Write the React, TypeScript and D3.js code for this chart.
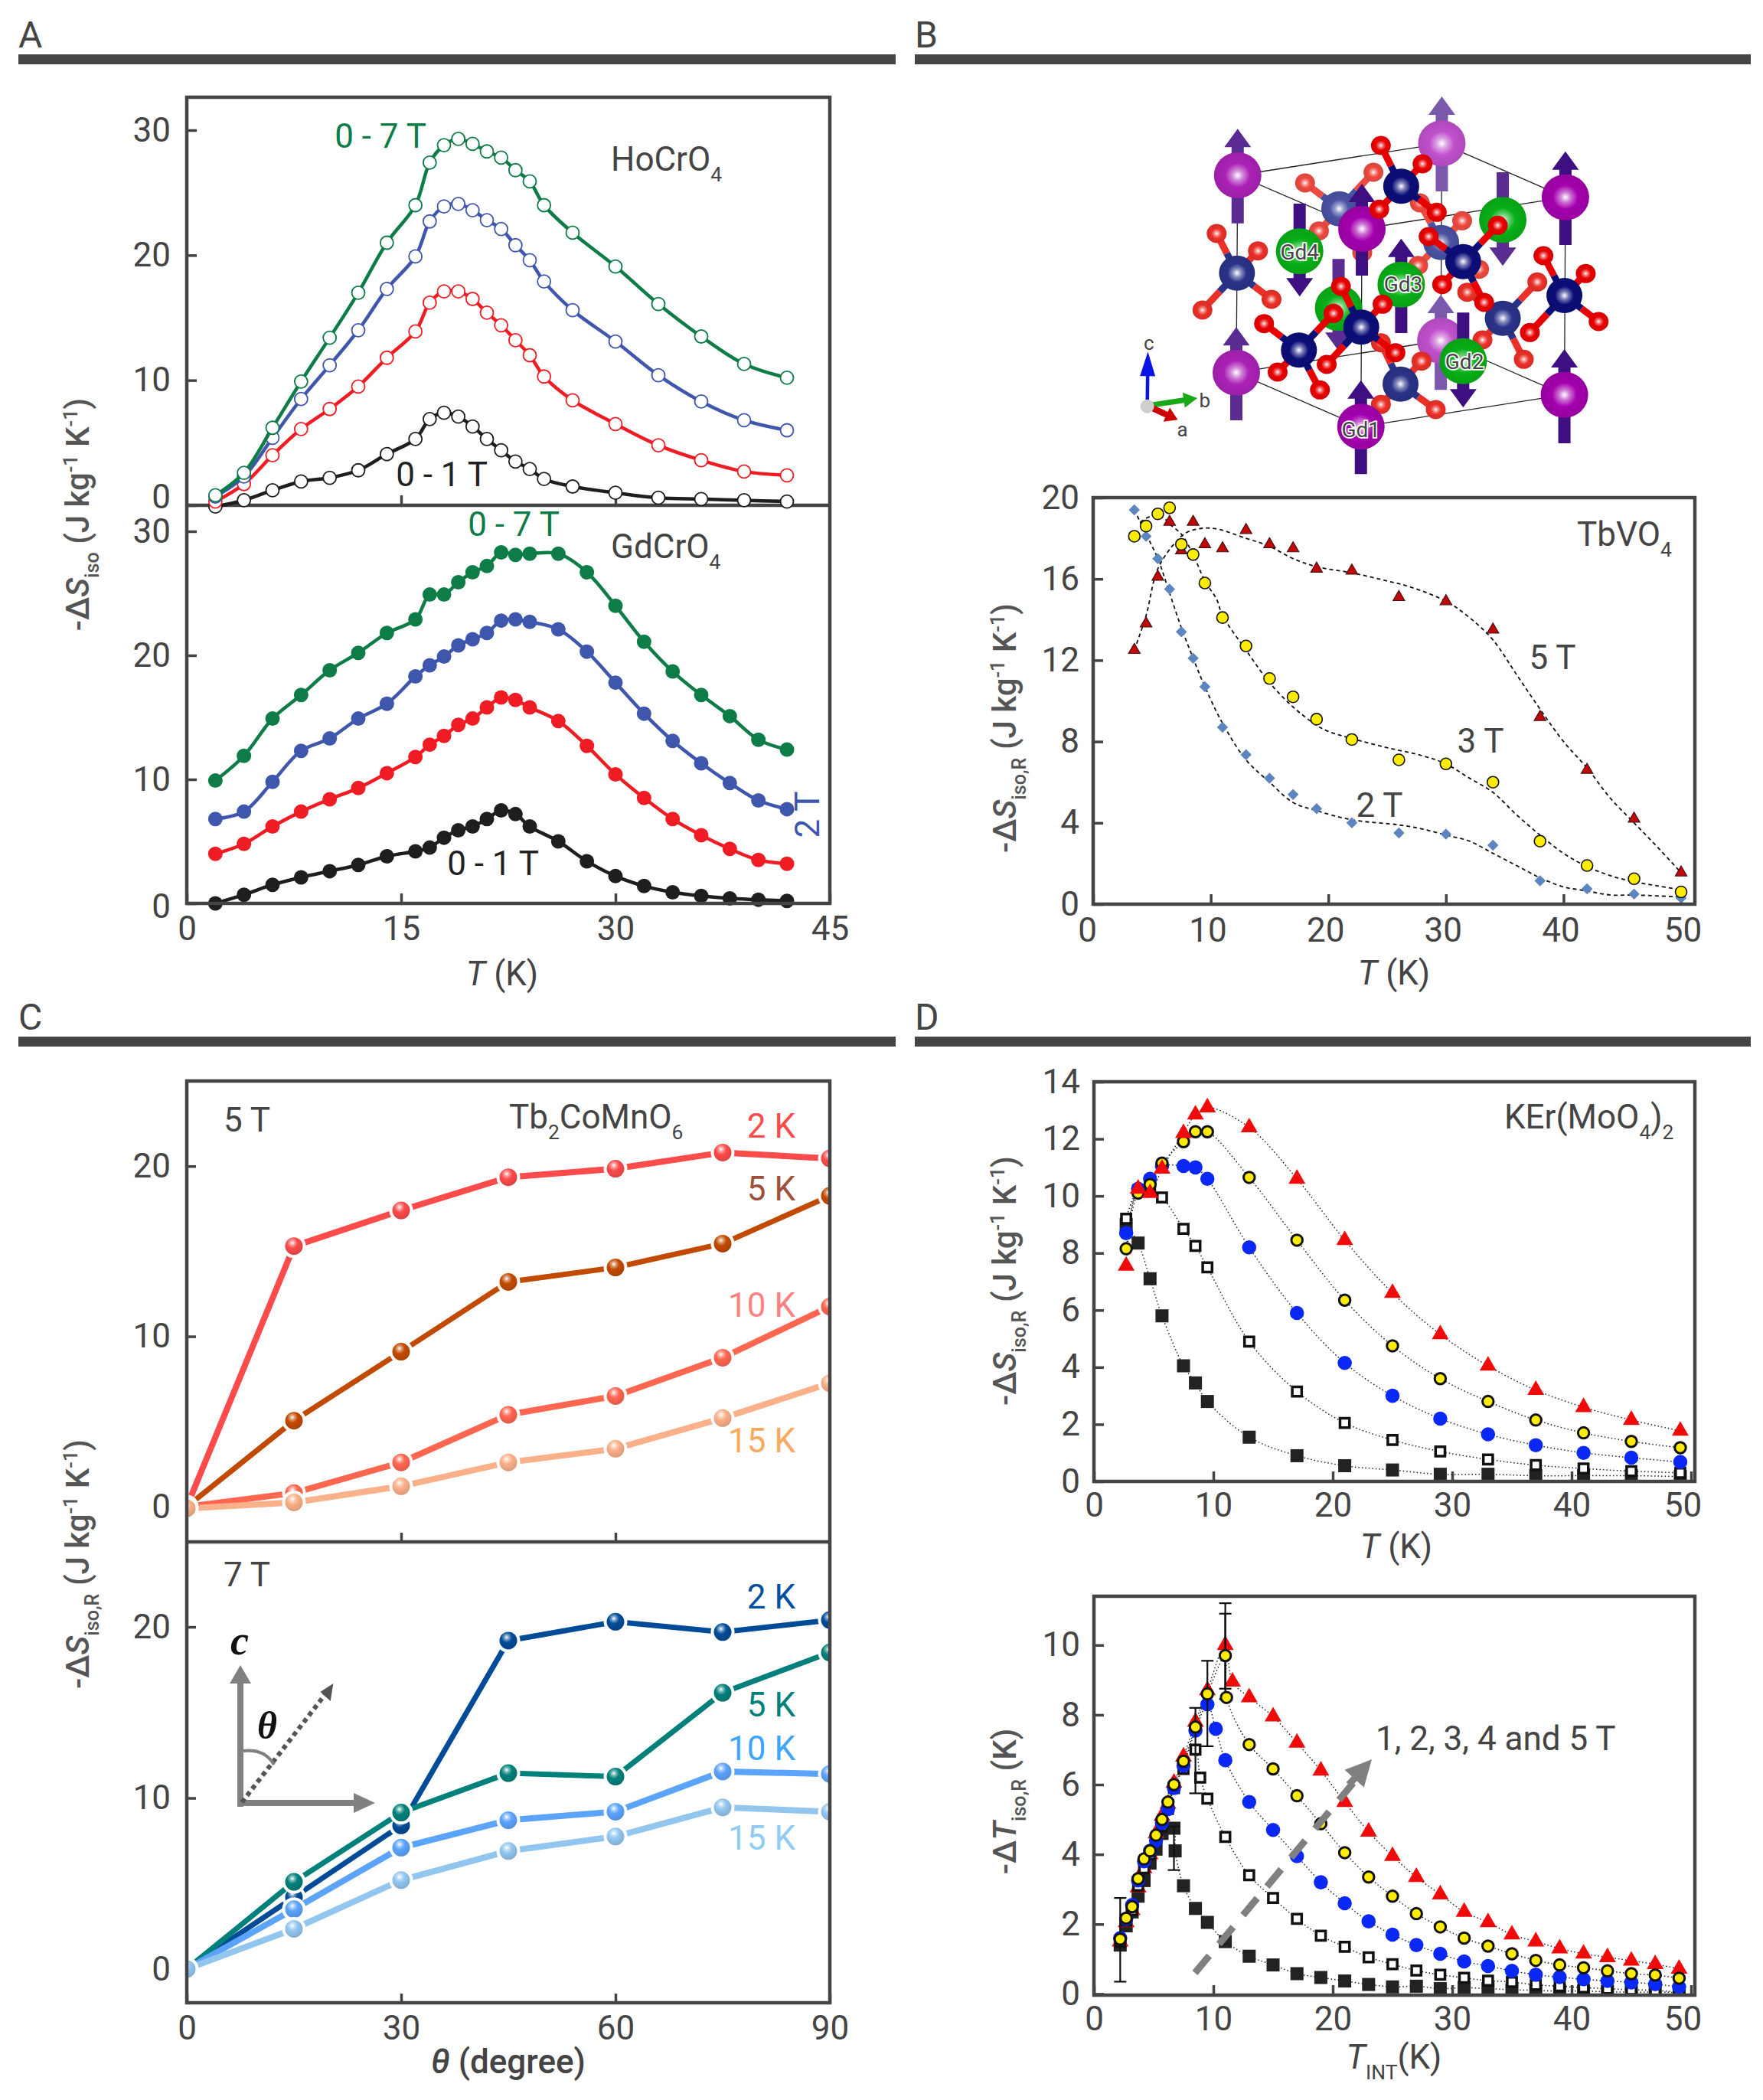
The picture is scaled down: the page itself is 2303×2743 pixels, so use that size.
import React, { useRef, useEffect } from 'react';
import * as d3 from 'd3';

const FONT = 'Roboto, sans-serif';
const INK = '#444';

// Panel A, HoCrO4 (top) and GdCrO4 (bottom)
const hoTemps = [2, 4, 6, 8, 10, 12, 14, 16, 17, 18, 19, 20, 21, 22, 23, 24, 25, 27, 30, 33, 36, 39, 42];
const ho7T = [0.8, 2.6, 6.2, 9.9, 13.4, 17.0, 21.0, 24.0, 27.4, 28.8, 29.3, 28.9, 28.3, 27.8, 26.8, 25.9, 24.0, 21.8, 19.1, 16.1, 13.5, 11.3, 10.2];
const ho5T = [0.7, 2.3, 5.4, 8.5, 11.2, 14.0, 17.3, 19.9, 22.7, 23.9, 24.1, 23.6, 22.8, 22.1, 20.8, 19.6, 17.9, 15.6, 13.1, 10.4, 8.3, 6.8, 6.0];
const ho2T = [0.3, 1.7, 4.0, 6.1, 7.7, 9.5, 11.8, 13.9, 16.2, 17.1, 17.1, 16.5, 15.4, 14.4, 13.2, 12.0, 10.3, 8.4, 6.5, 4.8, 3.6, 2.7, 2.4];
const ho1T = [-0.1, 0.4, 1.2, 1.9, 2.2, 2.8, 4.1, 5.3, 6.9, 7.4, 7.1, 6.3, 5.3, 4.4, 3.5, 2.9, 2.1, 1.5, 1.0, 0.6, 0.5, 0.4, 0.3];
const gdTemps = [2, 4, 6, 8, 10, 12, 14, 16, 17, 18, 19, 20, 21, 22, 23, 24, 26, 28, 30, 32, 34, 36, 38, 40, 42];
const gd7T = [9.9, 11.9, 14.9, 16.8, 18.8, 20.2, 21.8, 22.9, 24.9, 24.9, 25.9, 26.7, 27.2, 28.3, 28.1, 28.2, 28.2, 26.7, 24.0, 21.1, 18.7, 16.8, 15.1, 13.2, 12.4];
const gd5T = [6.8, 7.4, 9.8, 12.3, 13.3, 14.9, 16.1, 18.3, 19.2, 19.9, 20.8, 21.3, 21.8, 22.8, 22.9, 22.7, 22.1, 20.3, 17.8, 15.3, 13.1, 11.3, 9.7, 8.3, 7.6];
const gd2T = [4.0, 4.8, 6.2, 7.4, 8.4, 9.3, 10.5, 11.8, 12.8, 13.5, 14.4, 14.9, 15.8, 16.6, 16.4, 15.8, 14.7, 12.7, 10.4, 8.5, 6.8, 5.5, 4.4, 3.5, 3.2];
const gd1T = [0, 0.7, 1.5, 2.1, 2.6, 3.1, 3.8, 4.2, 4.5, 5.3, 5.9, 6.2, 6.8, 7.5, 7.2, 6.2, 5.0, 3.4, 2.2, 1.4, 0.9, 0.6, 0.4, 0.3, 0.2];
const panelAColors = ['#1e1e1e', '#f01c24', '#3e57ad', '#0e7c46'];

// Panel B, TbVO4
const tbTemps = [3.5, 4.5, 5.5, 6.5, 7.5, 8.5, 9.5, 11, 13, 15, 17, 19, 22, 26, 30, 34, 38, 42, 46, 50];
const tb5T = [12.5, 13.8, 16.1, 18.8, 17.4, 18.8, 17.7, 17.5, 18.4, 17.7, 17.5, 16.5, 16.4, 15.1, 14.9, 13.5, 9.2, 6.6, 4.2, 1.55];
const tb3T = [18.1, 18.6, 19.2, 19.5, 17.7, 17.2, 15.8, 14.1, 12.7, 11.1, 10.2, 9.1, 8.1, 7.1, 6.9, 6.0, 3.1, 1.9, 1.25, 0.6];
const tb2T = [19.4, 18.1, 17.0, 15.5, 13.4, 12.1, 10.7, 8.7, 7.35, 6.2, 5.4, 4.7, 4.0, 3.5, 3.45, 2.9, 1.15, 0.75, 0.5, 0.3];
const tbFit5T = [[3.5, 12.5], [4.5, 14.2], [5.5, 16.5], [7, 17.8], [8, 18.3], [10, 18.5], [13, 18], [15, 17.6], [17, 17], [19, 16.6], [22, 16.3], [25, 15.9], [27, 15.6], [30, 14.9], [32, 14.1], [34, 13], [36, 11.3], [38, 9.6], [40, 8], [42, 6.7], [44, 5.2], [46, 4], [48, 2.8], [50, 1.55]];
const tbFit3T = [[4, 18.8], [5, 19.1], [6, 19], [6.5, 18.7], [7.5, 18.2], [8.5, 17.2], [9.5, 15.9], [10.5, 15], [11, 14.2], [13, 12.5], [15, 10.9], [17, 9.7], [19, 8.8], [20, 8.5], [22, 8.15], [25, 7.7], [28, 7.3], [30, 6.9], [32, 6.2], [34, 5.5], [36, 4.4], [38, 3.4], [40, 2.5], [42, 1.85], [44, 1.4], [46, 1.1], [48, 0.9], [50, 0.7]];
const tbFit2T = [[3.5, 19.4], [4.5, 18.2], [5.5, 17], [6.5, 15.3], [7.5, 13.6], [8.5, 12.1], [9.5, 10.7], [11, 8.9], [13, 7.1], [15, 6], [17, 5], [19, 4.6], [22, 4.15], [26, 3.9], [28, 3.7], [30, 3.4], [32, 3.1], [34, 2.5], [36, 1.9], [38, 1.3], [40, 0.85], [42, 0.65], [44, 0.45], [46, 0.45], [50, 0.35]];

// Panel C, Tb2CoMnO6
const angles = [0, 15, 30, 45, 60, 75, 90];
const c5T2K = [0, 15.3, 17.4, 19.35, 19.85, 20.8, 20.45];
const c5T5K = [0, 5.05, 9.1, 13.2, 14.05, 15.45, 18.25];
const c5T10K = [0, 0.8, 2.6, 5.4, 6.5, 8.75, 11.75];
const c5T15K = [-0.1, 0.25, 1.2, 2.6, 3.4, 5.2, 7.25];
const c7T2K = [0, 4.2, 8.4, 19.2, 20.3, 19.7, 20.4];
const c7T5K = [0, 5.1, 9.15, 11.45, 11.25, 16.15, 18.5];
const c7T10K = [0, 3.5, 7.1, 8.7, 9.2, 11.55, 11.4];
const c7T15K = [0, 2.35, 5.2, 6.9, 7.75, 9.45, 9.2];
const c5TColors = ['#fb4b4b', '#c24a00', '#ff6650', '#fab089'];
const c7TColors = ['#004b97', '#00807a', '#5ca3fb', '#93c6ef'];

// Panel D, KEr(MoO4)2, entropy
const kerTemps = [2.7, 3.7, 4.7, 5.7, 7.5, 8.5, 9.5, 13, 17, 21, 25, 29, 33, 37, 41, 45, 49.1];
const ker1T = [9.0, 8.35, 7.1, 5.8, 4.05, 3.45, 2.8, 1.55, 0.9, 0.55, 0.4, 0.25, 0.25, 0.2, 0.2, 0.2, 0.17];
const ker2T = [9.2, 10.2, 10.2, 9.95, 8.85, 8.25, 7.5, 4.9, 3.15, 2.05, 1.45, 1.05, 0.77, 0.57, 0.45, 0.36, 0.3];
const ker3T = [8.7, 10.25, 10.6, 11.05, 11.05, 11.0, 10.6, 8.2, 5.9, 4.15, 3.0, 2.2, 1.65, 1.27, 1.0, 0.83, 0.68];
const ker4T = [8.15, 10.1, 10.4, 11.15, 11.9, 12.25, 12.25, 10.65, 8.45, 6.35, 4.75, 3.6, 2.8, 2.15, 1.7, 1.4, 1.18];
const ker5T = [7.55, 10.25, 10.1, 10.95, 12.2, 12.85, 13.1, 12.4, 10.6, 8.45, 6.6, 5.15, 4.05, 3.2, 2.6, 2.15, 1.77];

// Panel D, adiabatic temperature change
const dt1T = [[2.2, 1.4], [2.7, 1.95], [3.2, 2.35], [3.7, 2.8], [4.2, 3.25], [4.7, 3.75], [5.2, 4.15], [5.7, 4.6], [6.7, 4.75], [6.8, 4.1], [7.5, 3.1], [8.5, 2.45], [9.5, 2.05], [11, 1.5], [13, 1.08], [15, 0.83], [17, 0.58], [19, 0.47], [21, 0.37], [23, 0.27], [25, 0.2], [27, 0.22], [29, 0.15], [31, 0.18], [33, 0.15], [35, 0.12], [37, 0.1], [39, 0.08], [41, 0.08], [43, 0.06], [45, 0.05], [47, 0.05], [49, 0.04]];
const dt2T = [[2.2, 1.5], [2.7, 2.1], [3.2, 2.4], [3.7, 3.1], [4.2, 3.6], [4.7, 4.0], [5.2, 4.4], [5.7, 4.8], [6.2, 5.3], [6.7, 5.9], [7.5, 6.45], [8.5, 7.0], [8.9, 6.2], [9.5, 5.6], [11, 4.5], [13, 3.4], [15, 2.75], [17, 2.15], [19, 1.67], [21, 1.35], [23, 1.05], [25, 0.85], [27, 0.67], [29, 0.55], [31, 0.46], [33, 0.38], [35, 0.34], [37, 0.26], [39, 0.22], [41, 0.18], [43, 0.15], [45, 0.12], [47, 0.1], [49, 0.05]];
const dt3T = [[2.2, 1.6], [2.7, 2.15], [3.2, 2.55], [3.7, 3.25], [4.2, 3.8], [4.7, 4.1], [5.2, 4.4], [5.7, 4.9], [6.2, 5.3], [6.7, 5.9], [7.5, 6.55], [8.5, 7.55], [9.5, 8.3], [10.2, 7.6], [11, 6.7], [13, 5.5], [15, 4.7], [17, 3.95], [19, 3.2], [21, 2.6], [23, 2.08], [25, 1.7], [27, 1.4], [29, 1.15], [31, 0.93], [33, 0.8], [35, 0.66], [37, 0.55], [39, 0.48], [41, 0.42], [43, 0.37], [45, 0.33], [47, 0.28], [49, 0.2]];
const dt4T = [[2.2, 1.57], [2.7, 2.17], [3.2, 2.5], [3.7, 3.3], [4.2, 3.87], [4.7, 4.1], [5.2, 4.55], [5.7, 5.0], [6.2, 5.5], [6.7, 6.0], [7.5, 6.67], [8.5, 7.65], [9.5, 8.6], [11, 9.7], [11.1, 8.5], [13, 7.15], [15, 6.45], [17, 5.68], [19, 4.88], [21, 4.05], [23, 3.35], [25, 2.8], [27, 2.3], [29, 1.92], [31, 1.6], [33, 1.37], [35, 1.15], [37, 0.96], [39, 0.83], [41, 0.75], [43, 0.66], [45, 0.58], [47, 0.54], [49, 0.45]];
const dt5T = [[2.2, 1.5], [2.7, 2.05], [3.2, 2.4], [3.7, 3.05], [4.2, 3.6], [4.7, 4.0], [5.2, 4.6], [5.7, 5.1], [6.2, 5.45], [6.7, 6.05], [7.5, 6.8], [8.5, 7.8], [9.5, 8.7], [11, 10.0], [11.6, 8.95], [13, 8.5], [15, 7.95], [17, 7.2], [19, 6.4], [21, 5.5], [23, 4.65], [25, 3.95], [27, 3.35], [29, 2.85], [31, 2.35], [33, 2.05], [35, 1.7], [37, 1.5], [39, 1.3], [41, 1.15], [43, 1.05], [45, 0.95], [47, 0.85], [49, 0.72]];
const dtErrors = [[2.2, 0.35, 2.75], [6.7, 3.55, 4.8], [8.5, 5.75, 8.2], [9.5, 7.1, 9.55], [11, 8.75, 11.2], [11, 8.45, 10.9]];

// Panel B crystal, positions in picture units of the structure drawing
const cellCorners = [[377, 237], [744, 447], [1345, 323], [980, 112], [373, 1010], [741, 1222], [1342, 1097], [977, 885]];
const cellEdges = [[0, 1], [1, 2], [0, 3], [3, 2], [4, 5], [5, 6], [4, 7], [7, 6], [0, 4], [1, 5], [2, 6], [3, 7]];
// kind, x, y, shade (0 front .. 2 back), arrow tail y, arrow tip y
const rareEarthBack = [
  ['gd', 980, 112, 2, 300, -72], ['gd', 977, 885, 2, 1078, 705],
  ['rg', 1160, 412, 1, 225, 592], ['rg', 675, 757, 1, 565, 925],
];
const rareEarthFront = [
  ['gd', 377, 237, 1, 425, 55], ['gd', 1345, 323, 0, 510, 143], ['gd', 373, 1010, 1, 1197, 832], ['gd', 1342, 1097, 0, 1287, 918],
  ['rg', 560, 535, 0, 348, 712], ['rg', 860, 665, 0, 855, 485], ['gd', 744, 447, 0, 630, 270],
];
const rareEarthLast = [['gd', 741, 1222, 0, 1408, 1040], ['rg', 1043, 965, 0, 775, 1147]];
const tetrahedraBack = [
  [677, 368, 2, [[576, 267], [778, 225], [617, 455], [745, 540]]],
  [978, 500, 2, [[1040, 415], [915, 345], [1090, 605], [910, 590]]],
  [375, 620, 1, [[315, 465], [437, 533], [273, 765], [477, 723]]],
  [1160, 797, 1, [[1262, 655], [1100, 882], [1222, 958], [1055, 695]]],
  [858, 1055, 1, [[920, 965], [962, 1155], [800, 1135], [800, 893]]],
];
const tetrahedraFront = [
  [860, 280, 0, [[800, 120], [923, 192], [965, 382], [795, 370]]],
  [1043, 575, 0, [[941, 477], [1145, 433], [981, 665], [1105, 735]]],
  [1342, 708, 0, [[1280, 552], [1405, 622], [1240, 853], [1443, 810]]],
  [558, 922, 0, [[455, 818], [660, 778], [495, 1008], [620, 1078]]],
  [742, 832, 0, [[682, 672], [805, 742], [640, 978], [843, 932]]],
];
const gdLabels = [['Gd4', 560, 537], ['Gd3', 866, 664], ['Gd2', 1047, 967], ['Gd1', 741, 1232]];

const shades = {
  gd: ['#a400ae', '#ab22b6', '#c050cc'],
  rg: ['#08b018', '#08b018', '#42c442'],
  v: ['#0c0e78', '#2a3388', '#4a52a2'],
  o: ['#e80000', '#ea3028', '#ee4a40'],
};
const arrowShades = ['#3d0f80', '#5a2b90', '#7a58ab'];

type Part = { t: string; italic?: boolean; sub?: boolean; sup?: boolean };

function richText(parent: any, parts: Part[], opts: any) {
  const size = opts.size ?? 44;
  const text = parent.append('text')
    .attr('font-family', opts.family ?? FONT)
    .attr('font-size', size)
    .attr('font-weight', opts.weight ?? 400)
    .attr('fill', opts.fill ?? INK)
    .attr('text-anchor', opts.anchor ?? 'start')
    .attr('transform', `translate(${opts.x},${opts.y}) rotate(${opts.rotate ?? 0})`);
  let offset = 0;
  parts.forEach(p => {
    const target = p.sub ? size * 0.32 : p.sup ? -size * 0.36 : 0;
    text.append('tspan')
      .attr('dy', target - offset)
      .attr('font-size', p.sub || p.sup ? size * 0.6 : size)
      .attr('font-style', p.italic ? 'italic' : 'normal')
      .text(p.t);
    offset = target;
  });
  return text;
}

function drawAxis(g: any, axis: any, tx: number, ty: number) {
  const a = g.append('g').attr('transform', `translate(${tx},${ty})`).call(axis);
  a.select('.domain').remove();
  a.selectAll('line').attr('stroke', INK).attr('stroke-width', 3.5);
  a.selectAll('text').attr('fill', INK);
  a.attr('font-family', FONT).attr('font-size', 44);
  return a;
}

function drawFrame(g: any, x: any, y: any) {
  const [x0, x1] = x.range();
  const [y1, y0] = y.range();
  g.append('rect').attr('x', x0).attr('y', y0).attr('width', x1 - x0).attr('height', y1 - y0)
    .attr('fill', 'none').attr('stroke', INK).attr('stroke-width', 4.5);
}

function addClip(defs: any, id: string, x: any, y: any) {
  const [x0, x1] = x.range();
  const [y1, y0] = y.range();
  defs.append('clipPath').attr('id', id).append('rect')
    .attr('x', x0).attr('y', y0).attr('width', x1 - x0).attr('height', y1 - y0);
}

function ballGradient(defs: any, id: string, color: string, cx = '50%', cy = '50%') {
  const grad = defs.append('radialGradient').attr('id', id).attr('cx', cx).attr('cy', cy).attr('r', '58%');
  const c = d3.color(color)!;
  grad.append('stop').attr('offset', '0%').attr('stop-color', '#fff');
  grad.append('stop').attr('offset', '20%').attr('stop-color', d3.interpolateRgb(color, '#fff')(0.45));
  grad.append('stop').attr('offset', '45%').attr('stop-color', color);
  grad.append('stop').attr('offset', '100%').attr('stop-color', c.darker(0.35).formatHex());
}

function blockArrow(g: any, x1: number, y1: number, x2: number, y2: number, width: number, headW: number, headL: number, fill: string) {
  const ang = Math.atan2(y2 - y1, x2 - x1);
  const len = Math.hypot(x2 - x1, y2 - y1);
  g.append('path')
    .attr('transform', `translate(${x1},${y1}) rotate(${(ang * 180) / Math.PI})`)
    .attr('d', `M0,${-width / 2}L${len - headL},${-width / 2}L${len - headL},${-headW / 2}L${len},0L${len - headL},${headW / 2}L${len - headL},${width / 2}L0,${width / 2}Z`)
    .attr('fill', fill);
}

function drawPanelA(svg: any) {
  const x = d3.scaleLinear().domain([0, 45]).range([244, 1084]);
  const yTop = d3.scaleLinear().domain([0, 30]).range([660, 170]);
  const yLow = d3.scaleLinear().domain([0, 30]).range([1180, 694]);
  const g = svg.append('g');
  const lineFor = (y: any) => d3.line<[number, number]>().x(d => x(d[0])).y(d => y(d[1])).curve(d3.curveCatmullRom.alpha(0.5));

  const lowAxis = drawAxis(g, d3.axisLeft(yLow).tickValues([0, 10, 20, 30]).tickSize(-13).tickPadding(21), 244, 0);
  lowAxis.selectAll('text').attr('y', (d: number) => (d === 0 ? 4 : 0));
  const topAxis = drawAxis(g, d3.axisLeft(yTop).tickValues([0, 10, 20, 30]).tickSize(-13).tickPadding(21), 244, 0);
  topAxis.selectAll('text').attr('y', (d: number) => (d === 0 ? -11 : 0));
  drawAxis(g, d3.axisBottom(x).tickValues([0, 15, 30, 45]).tickSize(-13).tickPadding(17), 0, 1180);
  drawAxis(g, d3.axisBottom(x).tickValues([15, 30]).tickSize(-13).tickFormat(() => ''), 0, 660);

  [gd1T, gd2T, gd5T, gd7T].forEach((vals, i) => {
    const pts = gdTemps.map((t, k) => [t, vals[k]] as [number, number]);
    g.append('path').attr('d', lineFor(yLow)(pts)).attr('fill', 'none').attr('stroke', panelAColors[i]).attr('stroke-width', 4.5);
    g.selectAll(null).data(pts).join('circle')
      .attr('cx', (d: any) => x(d[0])).attr('cy', (d: any) => yLow(d[1])).attr('r', 9.5).attr('fill', panelAColors[i]);
  });
  drawFrame(g, x, d3.scaleLinear().range([1180, 127]));
  g.append('line').attr('x1', 244).attr('x2', 1084).attr('y1', 660).attr('y2', 660).attr('stroke', INK).attr('stroke-width', 4.5);
  [ho1T, ho2T, ho5T, ho7T].forEach((vals, i) => {
    const pts = hoTemps.map((t, k) => [t, vals[k]] as [number, number]);
    g.append('path').attr('d', lineFor(yTop)(pts)).attr('fill', 'none').attr('stroke', panelAColors[i]).attr('stroke-width', 4.5);
    g.selectAll(null).data(pts).join('circle')
      .attr('cx', (d: any) => x(d[0])).attr('cy', (d: any) => yTop(d[1])).attr('r', 8.5)
      .attr('fill', '#fff').attr('stroke', panelAColors[i]).attr('stroke-width', 1.8);
  });

  const label = (t: string, cx: number, y: number, fill: string) => richText(g, [{ t }], { x: cx, y, fill, anchor: 'middle' });
  label('0 - 7 T', 497, 193, '#0e7c46');
  label('0 - 1 T', 577, 635, '#222');
  label('0 - 7 T', 671, 700, '#0e7c46');
  label('0 - 1 T', 644, 1143, '#222');
  richText(g, [{ t: '2 T' }], { x: 1070, y: 1064, fill: '#3e57ad', anchor: 'middle', rotate: -90 });
  richText(g, [{ t: 'HoCrO' }, { t: '4', sub: true }], { x: 798, y: 223 });
  richText(g, [{ t: 'GdCrO' }, { t: '4', sub: true }], { x: 798, y: 729 });
  richText(g, [{ t: 'T', italic: true }, { t: ' (K)' }], { x: 656, y: 1287, anchor: 'middle' });
  richText(g, [{ t: '-Δ' }, { t: 'S', italic: true }, { t: 'iso', sub: true }, { t: '  (J kg' }, { t: '-1', sup: true }, { t: ' K' }, { t: '-1', sup: true }, { t: ')' }],
    { x: 116, y: 672, rotate: -90, anchor: 'middle', weight: 500, fill: '#555', size: 42 });
}

function drawCrystal(svg: any, defs: any) {
  const sx = d3.scaleLinear().domain([0, 1560]).range([1450, 2140]);
  const sy = d3.scaleLinear().domain([0, 1440]).range([150, 630]);
  const g = svg.append('g');

  Object.entries(shades).forEach(([kind, cols]) => {
    (cols as string[]).forEach((c, i) => ballGradient(defs, `ball-${kind}-${i}`, c));
  });

  const drawSite = (list: any[]) => list.forEach(([kind, px, py, shade, tail, tip]) => {
    const X = sx(px);
    blockArrow(g, X, sy(tail), X, sy(tip), 16, 35, 24, arrowShades[shade]);
    g.append('ellipse').attr('cx', X).attr('cy', sy(py)).attr('rx', 31).attr('ry', 30)
      .attr('fill', `url(#ball-${kind}-${shade})`);
  });

  const drawTetra = (list: any[]) => list.forEach(([vx, vy, shade, oxy]) => {
    const bondV = shades.v[shade];
    const bondO = shades.o[shade];
    (oxy as number[][]).forEach(o => {
      const mx = (vx + o[0]) / 2;
      const my = (vy + o[1]) / 2;
      g.append('line').attr('x1', sx(vx)).attr('y1', sy(vy)).attr('x2', sx(mx)).attr('y2', sy(my))
        .attr('stroke', bondV).attr('stroke-width', 9);
      g.append('line').attr('x1', sx(mx)).attr('y1', sy(my)).attr('x2', sx(o[0])).attr('y2', sy(o[1]))
        .attr('stroke', bondO).attr('stroke-width', 9);
    });
    (oxy as number[][]).forEach(o => {
      g.append('ellipse').attr('cx', sx(o[0])).attr('cy', sy(o[1])).attr('rx', 13).attr('ry', 12.5)
        .attr('fill', `url(#ball-o-${shade})`);
    });
    g.append('ellipse').attr('cx', sx(vx)).attr('cy', sy(vy)).attr('rx', 23.5).attr('ry', 23)
      .attr('fill', `url(#ball-v-${shade})`);
  });

  cellEdges.forEach(([a, b]) => {
    g.append('line')
      .attr('x1', sx(cellCorners[a][0])).attr('y1', sy(cellCorners[a][1]))
      .attr('x2', sx(cellCorners[b][0])).attr('y2', sy(cellCorners[b][1]))
      .attr('stroke', '#222').attr('stroke-width', 1.3);
  });
  drawSite(rareEarthBack);
  drawTetra(tetrahedraBack);
  drawSite(rareEarthFront);
  drawTetra(tetrahedraFront);
  drawSite(rareEarthLast);

  g.selectAll(null).data(gdLabels).join('text')
    .attr('x', (d: any) => sx(d[1])).attr('y', (d: any) => sy(d[2]) + 10)
    .attr('text-anchor', 'middle').attr('font-family', FONT).attr('font-size', 28)
    .attr('fill', '#444').attr('stroke', '#fff').attr('stroke-width', 3.5).attr('paint-order', 'stroke')
    .text((d: any) => d[0]);

  // orientation glyph
  blockArrow(g, sx(110), sy(1140), sx(112), sy(928), 4.5, 20, 32, '#0a14e6');
  blockArrow(g, sx(110), sy(1140), sx(258), sy(1110), 7, 20, 18, '#18a818');
  blockArrow(g, sx(110), sy(1140), sx(200), sy(1195), 8, 20, 16, '#cc0000');
  g.append('circle').attr('cx', sx(110)).attr('cy', sy(1142)).attr('r', 9).attr('fill', '#cfcfcf');
  [['c', 115, 895], ['b', 280, 1120], ['a', 214, 1232]].forEach(([t, px, py]: any) => {
    g.append('text').attr('x', sx(px)).attr('y', sy(py) + 9).attr('text-anchor', 'middle')
      .attr('font-family', FONT).attr('font-size', 26).attr('fill', INK).text(t);
  });
}

function drawPanelB(svg: any) {
  const x = d3.scaleLinear().domain([0, 51.17]).range([1428, 2214]);
  const y = d3.scaleLinear().domain([0, 20]).range([1181, 650]);
  const g = svg.append('g');
  drawAxis(g, d3.axisLeft(y).tickValues([0, 4, 8, 12, 16, 20]).tickSize(-13).tickPadding(18), 1428, 0);
  const xa = drawAxis(g, d3.axisBottom(x).tickValues([0, 10, 20, 30, 40, 50]).tickSize(-13).tickPadding(18), 0, 1181);
  xa.selectAll('text').attr('x', (d: number) => (d === 50 ? 2 : d === 0 ? -8 : -4));
  const line = d3.line<number[]>().x(d => x(d[0])).y(d => y(d[1])).curve(d3.curveCatmullRom.alpha(0.5));
  [tbFit5T, tbFit3T, tbFit2T].forEach(fit => {
    g.append('path').attr('d', line(fit)).attr('fill', 'none').attr('stroke', '#111').attr('stroke-width', 1.8).attr('stroke-dasharray', '5 4');
  });
  const tri = d3.symbol().type(d3.symbolTriangle).size(100)();
  const sq = d3.symbol().type(d3.symbolSquare).size(105)();
  g.selectAll(null).data(tbTemps.map((t, i) => [t, tb2T[i]])).join('path')
    .attr('d', sq).attr('fill', '#5b86c0')
    .attr('transform', (d: any) => `translate(${x(d[0])},${y(d[1])}) rotate(45)`);
  g.selectAll(null).data(tbTemps.map((t, i) => [t, tb5T[i]])).join('path')
    .attr('d', tri).attr('fill', '#c00808').attr('stroke', '#4a1010').attr('stroke-width', 1.2)
    .attr('transform', (d: any) => `translate(${x(d[0])},${y(d[1])})`);
  g.selectAll(null).data(tbTemps.map((t, i) => [t, tb3T[i]])).join('circle')
    .attr('cx', (d: any) => x(d[0])).attr('cy', (d: any) => y(d[1])).attr('r', 7.5)
    .attr('fill', '#ffec00').attr('stroke', '#111').attr('stroke-width', 1.6);
  drawFrame(g, x, y);
  richText(g, [{ t: '5 T' }], { x: 2028, y: 874, anchor: 'middle' });
  richText(g, [{ t: '3 T' }], { x: 1934, y: 983, anchor: 'middle' });
  richText(g, [{ t: '2 T' }], { x: 1802, y: 1067, anchor: 'middle' });
  richText(g, [{ t: 'TbVO' }, { t: '4', sub: true }], { x: 2060, y: 713 });
  richText(g, [{ t: 'T', italic: true }, { t: ' (K)' }], { x: 1821, y: 1286, anchor: 'middle' });
  richText(g, [{ t: '-Δ' }, { t: 'S', italic: true }, { t: 'iso,R', sub: true }, { t: '  (J kg' }, { t: '-1', sup: true }, { t: ' K' }, { t: '-1', sup: true }, { t: ')' }],
    { x: 1327, y: 951, rotate: -90, anchor: 'middle', weight: 500, fill: '#555', size: 42 });
}

function drawPanelC(svg: any, defs: any) {
  const x = d3.scaleLinear().domain([0, 90]).range([244, 1084]);
  const yTop = d3.scaleLinear().domain([-2.07, 25]).range([2014, 1412]);
  const yLow = d3.scaleLinear().domain([-1.97, 24.97]).range([2616, 2014]);
  const g = svg.append('g');
  addClip(defs, 'clip-c-top', x, yTop);
  addClip(defs, 'clip-c-low', x, yLow);

  drawAxis(g, d3.axisLeft(yTop).tickValues([0, 10, 20]).tickSize(-12).tickPadding(21), 244, 0);
  drawAxis(g, d3.axisLeft(yLow).tickValues([0, 10, 20]).tickSize(-12).tickPadding(21), 244, 0);
  drawAxis(g, d3.axisBottom(x).tickValues([0, 30, 60, 90]).tickSize(-12).tickPadding(17), 0, 2616);
  drawAxis(g, d3.axisBottom(x).tickValues([30, 60]).tickSize(-12).tickFormat(() => ''), 0, 2014);

  const drawSet = (sets: number[][], colors: string[], y: any, clip: string, widths: number[]) => {
    const mg = g.append('g').attr('clip-path', `url(#${clip})`);
    sets.forEach((vals, i) => {
      const id = `c-${clip}-${i}`;
      ballGradient(defs, id, colors[i], '42%', '34%');
      const pts = angles.map((a, k) => [a, vals[k]]);
      const line = d3.line<number[]>().x(d => x(d[0])).y(d => y(d[1]));
      mg.append('path').attr('d', line(pts)).attr('fill', 'none').attr('stroke', colors[i]).attr('stroke-width', widths[i]);
      mg.selectAll(null).data(pts).join('circle')
        .attr('cx', (d: any) => x(d[0])).attr('cy', (d: any) => y(d[1])).attr('r', 13.5)
        .attr('fill', `url(#${id})`).attr('stroke', '#fff').attr('stroke-width', 4);
    });
  };
  drawSet([c5T2K, c5T5K, c5T10K, c5T15K], c5TColors, yTop, 'clip-c-top', [8, 7, 8, 8]);
  drawSet([c7T2K, c7T5K, c7T10K, c7T15K], c7TColors, yLow, 'clip-c-low', [7, 7, 8, 8]);

  drawFrame(g, x, d3.scaleLinear().range([2616, 1412]));
  g.append('line').attr('x1', 244).attr('x2', 1084).attr('y1', 2014).attr('y2', 2014).attr('stroke', INK).attr('stroke-width', 4.5);

  const right = (t: string, y: number, fill: string) => richText(g, [{ t }], { x: 1039, y, fill, anchor: 'end' });
  right('2 K', 1486, '#fb4b4b');
  right('5 K', 1568, '#a0503a');
  right('10 K', 1720, '#ff8080');
  right('15 K', 1897, '#f9a860');
  right('2 K', 2101, '#00509d');
  right('5 K', 2242, '#00807a');
  right('10 K', 2299, '#3da5ff');
  right('15 K', 2416, '#8fcbf5');
  richText(g, [{ t: '5 T' }], { x: 292, y: 1478 });
  richText(g, [{ t: '7 T' }], { x: 292, y: 2072 });
  richText(g, [{ t: 'Tb' }, { t: '2', sub: true }, { t: 'CoMnO' }, { t: '6', sub: true }], { x: 665, y: 1474 });

  // theta inset
  blockArrow(g, 314, 2360, 314, 2175, 8, 28, 24, '#808080');
  blockArrow(g, 311, 2355, 490, 2355, 8, 26, 28, '#808080');
  g.append('line').attr('x1', 316).attr('y1', 2354).attr('x2', 425).attr('y2', 2213)
    .attr('stroke', '#555').attr('stroke-width', 6).attr('stroke-dasharray', '6 5');
  g.append('path').attr('d', 'M420,2210L434,2201L431,2220Z').attr('fill', '#555').attr('stroke', '#555').attr('stroke-width', 2);
  g.append('path').attr('d', 'M318,2287Q346,2284 358,2305').attr('fill', 'none').attr('stroke', '#808080').attr('stroke-width', 4);
  g.append('text').attr('x', 313).attr('y', 2161).attr('text-anchor', 'middle').attr('font-family', 'Liberation Serif')
    .attr('font-weight', 700).attr('font-style', 'italic').attr('font-size', 54).attr('fill', '#111').text('c');
  g.append('text').attr('x', 349).attr('y', 2271).attr('text-anchor', 'middle').attr('font-family', 'Liberation Serif')
    .attr('font-weight', 700).attr('font-style', 'italic').attr('font-size', 50).attr('fill', '#111').text('θ');

  richText(g, [{ t: 'θ', italic: true }, { t: ' (degree)' }], { x: 664, y: 2708, anchor: 'middle', weight: 500 });
  richText(g, [{ t: '-Δ' }, { t: 'S', italic: true }, { t: 'iso,R', sub: true }, { t: '  (J kg' }, { t: '-1', sup: true }, { t: ' K' }, { t: '-1', sup: true }, { t: ')' }],
    { x: 116, y: 2043, rotate: -90, anchor: 'middle', weight: 500, fill: '#555', size: 42 });
}

function drawMarkers(g: any, pts: number[][], x: any, y: any, kind: string) {
  const sel = g.selectAll(null).data(pts).join('path');
  const at = (d: any) => `translate(${x(d[0])},${y(d[1])})`;
  if (kind === 'solidSquare') sel.attr('d', d3.symbol().type(d3.symbolSquare).size(290)()).attr('fill', '#222');
  if (kind === 'openSquare') sel.attr('d', d3.symbol().type(d3.symbolSquare).size(150)()).attr('fill', '#fff').attr('stroke', '#111').attr('stroke-width', 3.5);
  if (kind === 'blue') sel.attr('d', d3.symbol().type(d3.symbolCircle).size(270)()).attr('fill', '#0a28f5');
  if (kind === 'yellow') sel.attr('d', d3.symbol().type(d3.symbolCircle).size(165)()).attr('fill', '#ffec00').attr('stroke', '#111').attr('stroke-width', 3);
  if (kind === 'red') sel.attr('d', d3.symbol().type(d3.symbolTriangle).size(210)()).attr('fill', '#f00a0a');
  sel.attr('transform', at);
}

function drawPanelD(svg: any, defs: any) {
  const x = d3.scaleLinear().domain([0, 50.32]).range([1429, 2214]);
  const yTop = d3.scaleLinear().domain([0, 14]).range([1935, 1413]);
  const yLow = d3.scaleLinear().domain([-0.035, 11.4]).range([2606, 2085]);
  const g = svg.append('g');
  addClip(defs, 'clip-d-top', x, yTop);
  addClip(defs, 'clip-d-low', x, yLow);
  const line = (y: any) => d3.line<number[]>().x(d => x(d[0])).y(d => y(d[1])).curve(d3.curveCatmullRom.alpha(0.5));
  const shiftLast = (a: any) => a.selectAll('text').attr('x', (d: number) => (d === 50 ? -11 : 0));

  drawAxis(g, d3.axisLeft(yTop).tickValues([0, 2, 4, 6, 8, 10, 12, 14]).tickSize(-13).tickPadding(18), 1429, 0);
  shiftLast(drawAxis(g, d3.axisBottom(x).tickValues([0, 10, 20, 30, 40, 50]).tickSize(-13).tickPadding(15), 0, 1935));
  drawAxis(g, d3.axisLeft(yLow).tickValues([0, 2, 4, 6, 8, 10]).tickSize(-13).tickPadding(18), 1429, 0);
  shiftLast(drawAxis(g, d3.axisBottom(x).tickValues([0, 10, 20, 30, 40, 50]).tickSize(-13).tickPadding(15), 0, 2606));

  // entropy
  const topG = g.append('g').attr('clip-path', 'url(#clip-d-top)');
  const kerSets: [number[], string][] = [[ker1T, 'solidSquare'], [ker2T, 'openSquare'], [ker3T, 'blue'], [ker4T, 'yellow'], [ker5T, 'red']];
  kerSets.forEach(([vals]) => {
    const pts = kerTemps.map((t, i) => [t, vals[i]]);
    topG.append('path').attr('d', line(yTop)(pts)).attr('fill', 'none').attr('stroke', '#222').attr('stroke-width', 1.5).attr('stroke-dasharray', '1.5 3');
  });
  kerSets.forEach(([vals, kind]) => drawMarkers(topG, kerTemps.map((t, i) => [t, vals[i]]), x, yTop, kind));
  drawFrame(g, x, yTop);
  richText(g, [{ t: 'KEr(MoO' }, { t: '4', sub: true }, { t: ')' }, { t: '2', sub: true }], { x: 1965, y: 1474 });
  richText(g, [{ t: 'T', italic: true }, { t: ' (K)' }], { x: 1824, y: 2035, anchor: 'middle' });
  richText(g, [{ t: '-Δ' }, { t: 'S', italic: true }, { t: 'iso,R', sub: true }, { t: '  (J kg' }, { t: '-1', sup: true }, { t: ' K' }, { t: '-1', sup: true }, { t: ')' }],
    { x: 1327, y: 1673, rotate: -90, anchor: 'middle', weight: 500, fill: '#555', size: 42 });

  // temperature change
  const lowG = g.append('g').attr('clip-path', 'url(#clip-d-low)');
  [dt1T, dt2T, dt3T, dt4T, dt5T].forEach(pts => {
    lowG.append('path').attr('d', line(yLow)(pts)).attr('fill', 'none').attr('stroke', '#222').attr('stroke-width', 1.5).attr('stroke-dasharray', '1.5 3');
  });
  drawMarkers(lowG, dt1T, x, yLow, 'solidSquare');
  drawMarkers(lowG, dt5T, x, yLow, 'red');
  drawMarkers(lowG, dt2T, x, yLow, 'openSquare');
  drawMarkers(lowG, dt3T, x, yLow, 'blue');
  const errs = g.append('g').attr('stroke', '#111').attr('stroke-width', 2.2);
  dtErrors.forEach(([t, lo, hi]) => {
    errs.append('line').attr('x1', x(t)).attr('x2', x(t)).attr('y1', yLow(lo)).attr('y2', yLow(hi));
    [lo, hi].forEach(v => {
      errs.append('line').attr('x1', x(t) - 8).attr('x2', x(t) + 8).attr('y1', yLow(v)).attr('y2', yLow(v));
    });
  });
  drawMarkers(g.append('g'), dt4T, x, yLow, 'yellow');
  drawFrame(g, x, yLow);

  // field arrow
  const arrowLen = Math.hypot(1775 - 1561, 2320 - 2577);
  g.append('line').attr('x1', 1561).attr('y1', 2577).attr('x2', 1775).attr('y2', 2320)
    .attr('stroke', '#808080').attr('stroke-width', 9).attr('stroke-dasharray', `29 20 29 20 29 20 29 20 29 20 29 20 29 ${arrowLen}`);
  blockArrow(g, 1762, 2331, 1792, 2298, 9, 34, 34, '#808080');
  richText(g, [{ t: '1, 2, 3, 4 and 5 T' }], { x: 1797, y: 2286 });
  richText(g, [{ t: 'T', italic: true }, { t: 'INT', sub: true }, { t: '(K)' }], { x: 1821, y: 2702, anchor: 'middle' });
  richText(g, [{ t: '-Δ' }, { t: 'T', italic: true }, { t: 'iso,R', sub: true }, { t: '  (K)' }],
    { x: 1327, y: 2353, rotate: -90, anchor: 'middle', weight: 500, fill: '#555', size: 42 });
}

const headers: [string, number, number, number, number][] = [
  ['A', 24, 1170, 71, 62],
  ['B', 1195, 2287, 71, 62],
  ['C', 24, 1170, 1354, 1345],
  ['D', 1195, 2287, 1354, 1345],
];

export default function App() {
  const ref = useRef<SVGSVGElement | null>(null);

  useEffect(() => {
    const svg = d3.select(ref.current);
    svg.selectAll('*').remove();
    svg.append('rect').attr('width', 2303).attr('height', 2743).attr('fill', '#fff');
    const defs = svg.append('defs');

    headers.forEach(([name, x0, x1, y, base]) => {
      svg.append('rect').attr('x', x0).attr('y', y).attr('width', x1 - x0).attr('height', 13).attr('fill', INK);
      svg.append('text').attr('x', x0).attr('y', base).attr('font-family', FONT).attr('font-size', 48).attr('fill', INK).text(name);
    });

    drawPanelA(svg);
    drawCrystal(svg, defs);
    drawPanelB(svg);
    drawPanelC(svg, defs);
    drawPanelD(svg, defs);
  }, []);

  return <svg ref={ref} width={2303} height={2743} style={{ position: 'absolute', left: 0, top: 0, display: 'block' }} />;
}
